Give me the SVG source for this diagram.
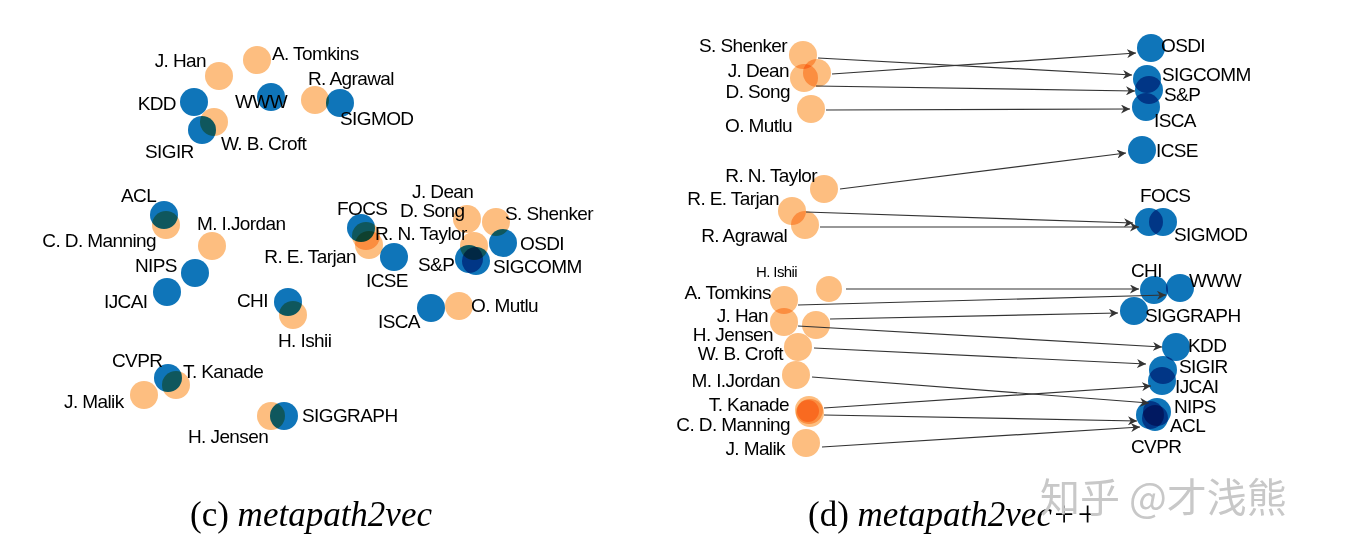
<svg xmlns="http://www.w3.org/2000/svg" width="1354" height="556" viewBox="0 0 1354 556">
<style>
.o{fill:#fdbe80;mix-blend-mode:multiply}
.b{fill:#0f75b9;mix-blend-mode:multiply}
text{font-family:"Liberation Sans",Arial,sans-serif;font-size:19px;letter-spacing:-0.6px;fill:#000}
.e{text-anchor:end}
.cap{font-family:"Liberation Serif","DejaVu Serif",serif;font-size:35px;letter-spacing:0}
.it{font-style:italic}
.wm{font-family:"Noto Sans CJK SC",sans-serif;font-size:40px;fill:#c8c8c8;letter-spacing:0}
#edges line{stroke:#333;stroke-width:1.2;marker-end:url(#ah)}
</style>
<defs>
<marker id="ah" viewBox="0 0 10 10" refX="10" refY="5" markerWidth="9" markerHeight="9" markerUnits="userSpaceOnUse" orient="auto">
<path d="M0,0 L10,5 L0,10 L3,5 z" fill="#333"/>
</marker>
</defs>
<rect width="1354" height="556" fill="#fff"/>
<g id="panel-c">
<g id="c-tomkins"><circle class="o" cx="257" cy="60" r="14"/><text x="272" y="60">A. Tomkins</text></g>
<g id="c-han"><circle class="o" cx="219" cy="76" r="14"/><text class="e" x="206" y="67">J. Han</text></g>
<g id="c-kdd"><circle class="b" cx="194" cy="102" r="14"/><text class="e" x="176" y="110">KDD</text></g>
<g id="c-www"><circle class="b" cx="271" cy="97" r="14"/><text x="235" y="108">WWW</text></g>
<g id="c-agrawal"><circle class="o" cx="315" cy="100" r="14"/><text x="308" y="85">R. Agrawal</text></g>
<g id="c-sigmod"><circle class="b" cx="340" cy="103" r="14"/><text x="340" y="125">SIGMOD</text></g>
<g id="c-croft"><circle class="o" cx="214" cy="122" r="14"/><text x="221" y="150">W. B. Croft</text></g>
<g id="c-sigir"><circle class="b" cx="202" cy="130" r="14"/><text x="145" y="158">SIGIR</text></g>
<g id="c-acl"><circle class="b" cx="164" cy="215" r="14"/><text x="121" y="202">ACL</text></g>
<g id="c-manning"><circle class="o" cx="166" cy="225" r="14"/><text class="e" x="156" y="247">C. D. Manning</text></g>
<g id="c-jordan"><circle class="o" cx="212" cy="246" r="14"/><text x="197" y="230">M. I.Jordan</text></g>
<g id="c-nips"><circle class="b" cx="195" cy="273" r="14"/><text x="135" y="272">NIPS</text></g>
<g id="c-ijcai"><circle class="b" cx="167" cy="292" r="14"/><text x="104" y="308">IJCAI</text></g>
<g id="c-chi"><circle class="b" cx="288" cy="302" r="14"/><text x="237" y="307">CHI</text></g>
<g id="c-ishii"><circle class="o" cx="293" cy="315" r="14"/><text x="278" y="347">H. Ishii</text></g>
<g id="c-cvpr"><circle class="b" cx="168" cy="378" r="14"/><text x="112" y="367">CVPR</text></g>
<g id="c-kanade"><circle class="o" cx="176" cy="385" r="14"/><text x="183" y="378">T. Kanade</text></g>
<g id="c-malik"><circle class="o" cx="144" cy="395" r="14"/><text x="64" y="408">J. Malik</text></g>
<g id="c-jensen"><circle class="o" cx="271" cy="416" r="14"/><text x="188" y="443">H. Jensen</text></g>
<g id="c-siggraph"><circle class="b" cx="284" cy="416" r="14"/><text x="302" y="422">SIGGRAPH</text></g>
<g id="c-focs"><circle class="b" cx="361" cy="228" r="14"/><text x="337" y="215">FOCS</text></g>
<g id="c-taylor"><circle class="o" cx="366" cy="236" r="14"/><text x="375" y="240">R. N. Taylor</text></g>
<g id="c-tarjan"><circle class="o" cx="369" cy="245" r="14"/><text class="e" x="356" y="263">R. E. Tarjan</text></g>
<g id="c-icse"><circle class="b" cx="394" cy="257" r="14"/><text x="366" y="287">ICSE</text></g>
<g id="c-dean"><circle class="o" cx="467" cy="219" r="14"/><text x="412" y="198">J. Dean</text></g>
<g id="c-song"><circle class="o" cx="474" cy="246" r="14"/><text x="400" y="217">D. Song</text></g>
<g id="c-shenker"><circle class="o" cx="496" cy="222" r="14"/><text x="505" y="220">S. Shenker</text></g>
<g id="c-osdi"><circle class="b" cx="503" cy="243" r="14"/><text x="520" y="250">OSDI</text></g>
<g id="c-sp"><circle class="b" cx="469" cy="259" r="14"/><text x="418" y="271">S&amp;P</text></g>
<g id="c-sigcomm"><circle class="b" cx="476" cy="261" r="14"/><text x="493" y="273">SIGCOMM</text></g>
<g id="c-isca"><circle class="b" cx="431" cy="308" r="14"/><text x="378" y="328">ISCA</text></g>
<g id="c-mutlu"><circle class="o" cx="459" cy="306" r="14"/><text x="471" y="312">O. Mutlu</text></g>
</g>
<g id="panel-d">
<g id="d-shenker"><circle class="o" cx="803" cy="55" r="14"/><text class="e" x="787" y="52">S. Shenker</text></g>
<g id="d-dean"><circle class="o" cx="817" cy="73" r="14"/><text class="e" x="789" y="77">J. Dean</text></g>
<g id="d-song"><circle class="o" cx="804" cy="78" r="14"/><text class="e" x="790" y="98">D. Song</text></g>
<g id="d-mutlu"><circle class="o" cx="811" cy="109" r="14"/><text class="e" x="792" y="132">O. Mutlu</text></g>
<g id="d-osdi"><circle class="b" cx="1151" cy="48" r="14"/><text x="1161" y="52">OSDI</text></g>
<g id="d-sigcomm"><circle class="b" cx="1147" cy="79" r="14"/><text x="1162" y="81">SIGCOMM</text></g>
<g id="d-sp"><circle class="b" cx="1149" cy="90" r="14"/><text x="1164" y="101">S&amp;P</text></g>
<g id="d-isca"><circle class="b" cx="1146" cy="107" r="14"/><text x="1154" y="127">ISCA</text></g>
<g id="d-icse"><circle class="b" cx="1142" cy="150" r="14"/><text x="1156" y="157">ICSE</text></g>
<g id="d-taylor"><circle class="o" cx="824" cy="189" r="14"/><text class="e" x="817" y="182">R. N. Taylor</text></g>
<g id="d-tarjan"><circle class="o" cx="792" cy="211" r="14"/><text class="e" x="779" y="205">R. E. Tarjan</text></g>
<g id="d-agrawal"><circle class="o" cx="805" cy="225" r="14"/><text class="e" x="787" y="242">R. Agrawal</text></g>
<g id="d-focs"><circle class="b" cx="1149" cy="222" r="14"/><text x="1140" y="202">FOCS</text></g>
<g id="d-sigmod"><circle class="b" cx="1163" cy="222" r="14"/><text x="1174" y="241">SIGMOD</text></g>
<g id="d-ishii"><circle class="o" cx="829" cy="289" r="13"/><text x="756" y="277" style="font-size:15px">H. Ishii</text></g>
<g id="d-tomkins"><circle class="o" cx="784" cy="300" r="14"/><text class="e" x="771" y="299">A. Tomkins</text></g>
<g id="d-han"><circle class="o" cx="784" cy="322" r="14"/><text class="e" x="768" y="322">J. Han</text></g>
<g id="d-jensen"><circle class="o" cx="816" cy="325" r="14"/><text class="e" x="773" y="341">H. Jensen</text></g>
<g id="d-croft"><circle class="o" cx="798" cy="347" r="14"/><text class="e" x="783" y="360">W. B. Croft</text></g>
<g id="d-jordan"><circle class="o" cx="796" cy="375" r="14"/><text class="e" x="780" y="387">M. I.Jordan</text></g>
<g id="d-kanade"><circle class="o" cx="809" cy="410" r="14"/><text class="e" x="789" y="411">T. Kanade</text></g>
<g id="d-manning"><circle class="o" cx="810" cy="413" r="14"/><circle class="o" cx="808" cy="411" r="11"/><text class="e" x="790" y="431">C. D. Manning</text></g>
<g id="d-malik"><circle class="o" cx="806" cy="443" r="14"/><text class="e" x="785" y="455">J. Malik</text></g>
<g id="d-chi"><circle class="b" cx="1154" cy="290" r="14"/><text x="1131" y="277">CHI</text></g>
<g id="d-www"><circle class="b" cx="1180" cy="288" r="14"/><text x="1189" y="287">WWW</text></g>
<g id="d-siggraph"><circle class="b" cx="1134" cy="311" r="14"/><text x="1145" y="322">SIGGRAPH</text></g>
<g id="d-kdd"><circle class="b" cx="1176" cy="347" r="14"/><text x="1188" y="352">KDD</text></g>
<g id="d-sigir"><circle class="b" cx="1163" cy="370" r="14"/><text x="1179" y="373">SIGIR</text></g>
<g id="d-ijcai"><circle class="b" cx="1162" cy="381" r="14"/><text x="1175" y="393">IJCAI</text></g>
<g id="d-nips"><circle class="b" cx="1157" cy="412" r="14"/><text x="1174" y="413">NIPS</text></g>
<g id="d-acl"><circle class="b" cx="1150" cy="415" r="14"/><text x="1170" y="432">ACL</text></g>
<g id="d-cvpr"><circle class="b" cx="1155" cy="418" r="13"/><text x="1131" y="453">CVPR</text></g>
</g>
<g id="edges">
<line x1="818" y1="58" x2="1132" y2="75"/>
<line x1="832" y1="74" x2="1136" y2="53"/>
<line x1="816" y1="86" x2="1135" y2="91"/>
<line x1="826" y1="110" x2="1130" y2="109"/>
<line x1="840" y1="189" x2="1126" y2="153"/>
<line x1="806" y1="212" x2="1133" y2="223"/>
<line x1="820" y1="227" x2="1139" y2="227"/>
<line x1="846" y1="289" x2="1139" y2="289"/>
<line x1="798" y1="305" x2="1166" y2="295"/>
<line x1="830" y1="319" x2="1118" y2="313"/>
<line x1="798" y1="326" x2="1162" y2="347"/>
<line x1="814" y1="348" x2="1146" y2="364"/>
<line x1="812" y1="377" x2="1149" y2="403"/>
<line x1="824" y1="408" x2="1151" y2="386"/>
<line x1="824" y1="415" x2="1137" y2="421"/>
<line x1="822" y1="447" x2="1140" y2="427"/>
</g>
<g id="captions">
<text class="cap" x="190" y="526">(c) <tspan class="it">metapath2vec</tspan></text>
<text class="cap" x="808" y="526">(d) <tspan class="it">metapath2vec++</tspan></text>
<text class="wm" x="1040" y="512">知乎 @才浅熊</text>
</g>
</svg>
